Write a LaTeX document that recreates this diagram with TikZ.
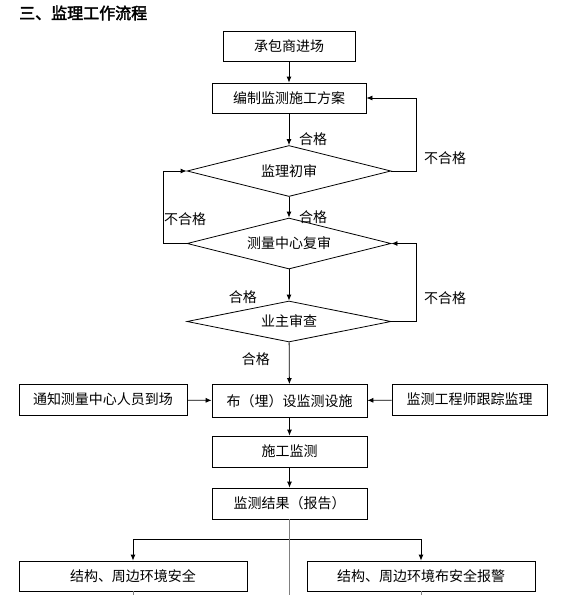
\documentclass[tikz,border=0pt]{standalone}
\usepackage{fontspec}
\newfontfamily\cjk{Noto Sans CJK SC}
\newfontfamily\cjktitle[FakeBold=2.5]{Noto Sans CJK SC}
\usetikzlibrary{shapes.geometric,arrows.meta}

\tikzset{
	stepbox/.style={draw, rectangle, line width=0.8pt, inner sep=0pt, font=\cjk\fontsize{14}{16}\selectfont},
	checkbox/.style={draw, diamond, aspect=4, line width=0.8pt, inner sep=0pt, minimum width=204pt, font=\cjk\fontsize{14}{16}\selectfont},
	passlabel/.style={inner sep=0pt, font=\cjk\fontsize{14}{16}\selectfont},
	flow/.style={line width=0.8pt, -{Latex[length=6pt,width=5pt]}},
	tail/.style={line width=0.8pt, draw=gray}
}

\begin{document}
\begin{tikzpicture}[x=1pt, y=-1pt]
		\useasboundingbox (0,0) rectangle (582,595);
		
		\node[inner sep=0pt, anchor=west, font=\cjktitle\fontsize{16}{18}\selectfont] (title) at (19,13) {三、监理工作流程};
		
		% main column
		\node[stepbox, minimum width=132pt, minimum height=30pt] (enter) at (289,46) {承包商进场};
		\node[stepbox, minimum width=154pt, minimum height=30pt] (plan) at (289,98) {编制监测施工方案};
		\node[checkbox, minimum height=51pt] (firstcheck) at (289,171) {监理初审};
		\node[checkbox, minimum height=51pt] (recheck) at (289,243.5) {测量中心复审};
		\node[checkbox, minimum height=41pt] (ownercheck) at (289,321.5) {业主审查};
		\node[stepbox, minimum width=155pt, minimum height=33pt] (install) at (289.5,401) {布（埋）设监测设施};
		\node[stepbox, minimum width=155pt, minimum height=31pt] (monitor) at (289.5,451.5) {施工监测};
		\node[stepbox, minimum width=155pt, minimum height=31pt] (result) at (289.5,503.5) {监测结果（报告）};
		
		% side boxes
		\node[stepbox, minimum width=168pt, minimum height=31pt] (notify) at (103,399.5) {通知测量中心人员到场};
		\node[stepbox, minimum width=155pt, minimum height=31pt] (track) at (469.5,399.5) {监测工程师跟踪监理};
		
		% outcomes
		\node[stepbox, minimum width=228pt, minimum height=30pt] (safe) at (133,576) {结构、周边环境安全};
		\node[stepbox, minimum width=228pt, minimum height=30pt] (alarm) at (421,576) {结构、周边环境布安全报警};
		
		\draw[flow] (enter) -- (plan);
		\draw[flow] (plan) -- (firstcheck);
		\draw[flow] (firstcheck) -- (recheck);
		\draw[flow] (recheck) -- (ownercheck);
		\draw[flow] (ownercheck) -- (install);
		\draw[flow] (install) -- (monitor);
		\draw[flow] (monitor) -- (result);
		\draw[flow] (notify) -- (install);
		\draw[flow] (track) -- (install);
		
		% loops back
		\draw[flow] (firstcheck.east) -- (416,171) |- (plan.east);
		\draw[flow] (recheck.west) -- (163,243.5) |- (firstcheck.west);
		\draw[flow] (ownercheck.east) -- (416,321.5) |- (recheck.east);
		
		\node[passlabel, anchor=west] (pass1) at (299,139) {合格};
		\node[passlabel, anchor=west] (fail1) at (424,158) {不合格};
		\node[passlabel, anchor=west] (pass2) at (299,217) {合格};
		\node[passlabel, anchor=west] (fail2) at (164,219) {不合格};
		\node[passlabel, anchor=east] (pass3) at (257,297) {合格};
		\node[passlabel, anchor=west] (fail3) at (424,298) {不合格};
		\node[passlabel, anchor=east] (pass4) at (270,359) {合格};
		
		% branch to outcomes
		\coordinate (forkleft) at (133,539);
		\coordinate (forkright) at (421,539);
		\draw[line width=0.8pt] (forkleft) -- (forkright);
		\draw[flow] (forkleft) -- (safe);
		\draw[flow] (forkright) -- (alarm);
		\coordinate (endmid) at (289.5,595);
		\coordinate (endleft) at (133,595);
		\coordinate (endright) at (421,595);
		\draw[tail] (result) -- (endmid);
		\draw[tail] (safe) -- (endleft);
		\draw[tail] (alarm) -- (endright);
	\end{tikzpicture}
\end{document}
